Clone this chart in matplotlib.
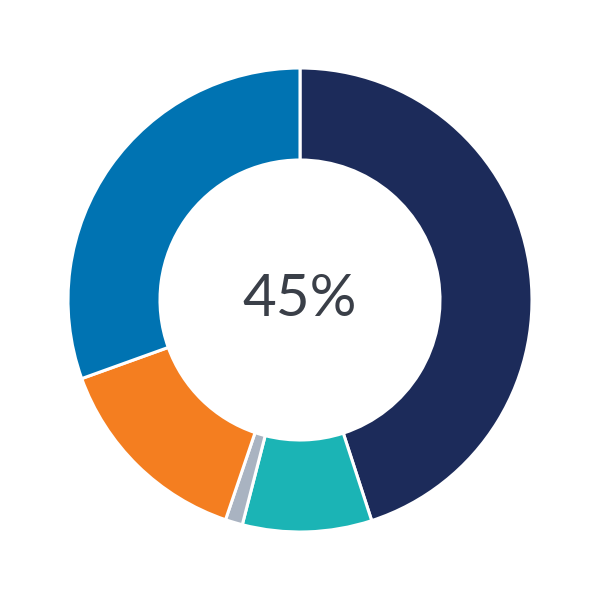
import matplotlib.pyplot as plt

# Slice shares, clockwise from 12 o'clock
labels = ['Navy', 'Teal', 'Gray', 'Orange', 'Blue']
values = [45, 9, 1.2, 14.3, 30.5]
colors = ['#1c2b5a', '#1bb4b5', '#a9b3c1', '#f47e20', '#0073b2']
center_text = '45%'

fig = plt.figure(figsize=(6, 6), dpi=100)
ax = fig.add_axes([0, 0, 1, 1])

ax.pie(values, colors=colors, startangle=90, counterclock=False,
       radius=232 / 300, wedgeprops=dict(width=92 / 300, edgecolor='white', linewidth=2.2))

ax.text(0, 0, center_text, ha='center', va='center', fontsize=42,
        family='Lato', color='#3a3f48')

ax.set_xlim(-1, 1)
ax.set_ylim(-1, 1)
ax.set_aspect('equal')
ax.axis('off')

fig.savefig('out.png', dpi=100, facecolor='white')
